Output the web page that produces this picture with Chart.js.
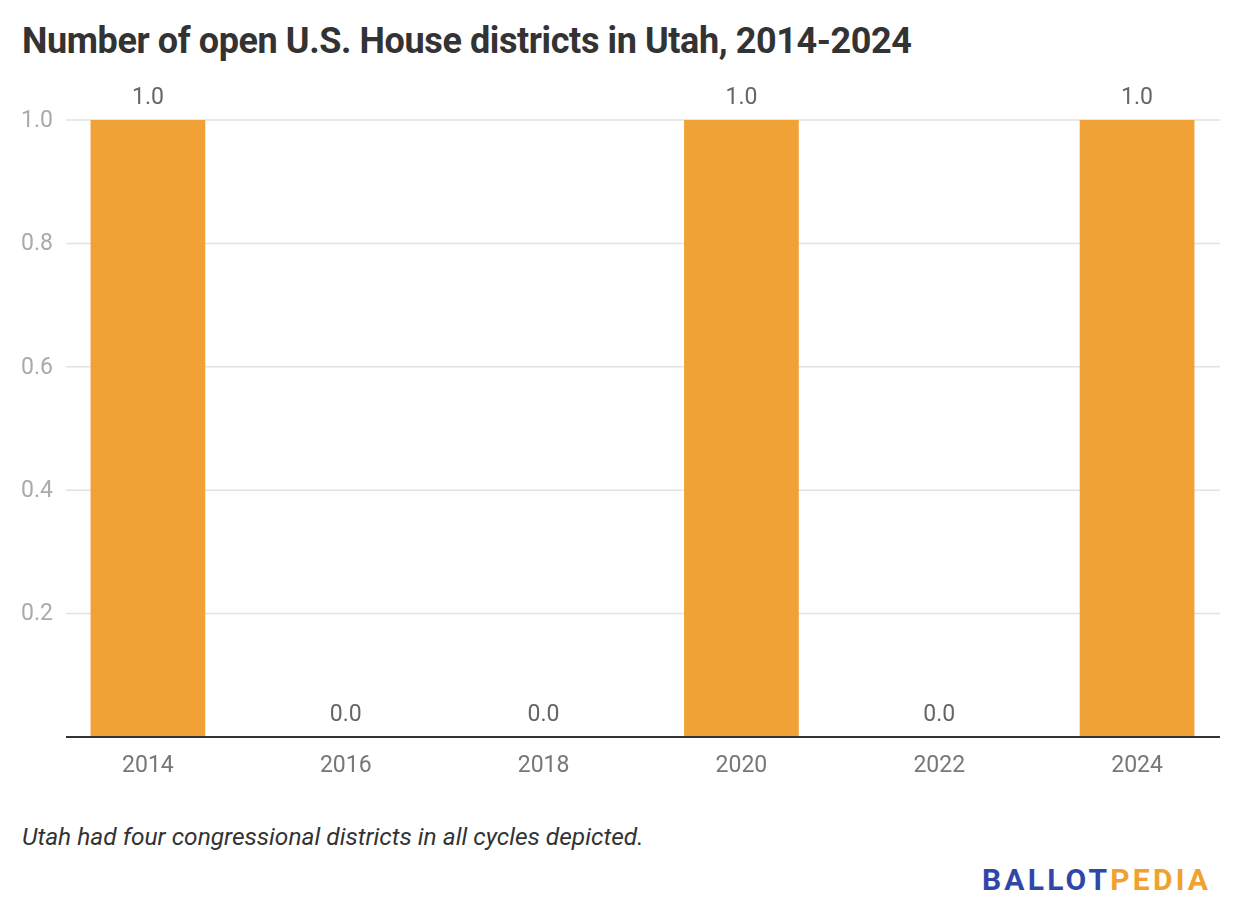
<!DOCTYPE html>
<html>
<head>
<meta charset="utf-8">
<script src="https://cdn.jsdelivr.net/npm/chart.js@4/dist/chart.umd.min.js"></script>
<style>
  html, body { margin: 0; padding: 0; background: #fff; }
  body { width: 1240px; height: 924px; position: relative; overflow: hidden; font-family: Roboto, "Noto Sans", sans-serif; }
  #title { position: absolute; left: 22px; top: 20px; font-size: 36px; font-weight: 700; color: #333; letter-spacing: -0.4px; white-space: nowrap; }
  #chart-wrap { position: absolute; left: 0; top: 0; width: 1240px; height: 800px; }
  #note { position: absolute; left: 22px; top: 822px; font-size: 24.5px; font-style: italic; color: #333; white-space: nowrap; }
  #logo { position: absolute; left: 982px; top: 862px; font-size: 30px; font-weight: 700; letter-spacing: 3.2px; white-space: nowrap; }
  #logo .b { color: #3147a8; }
  #logo .p { color: #f0a22e; }
</style>
</head>
<body>
<div id="title">Number of open U.S. House districts in Utah, 2014-2024</div>
<div id="chart-wrap"><canvas id="chart"></canvas></div>
<div id="note">Utah had four congressional districts in all cycles depicted.</div>
<div id="logo"><span class="b">BALLOT</span><span class="p">PEDIA</span></div>
<script>
document.addEventListener("DOMContentLoaded", function () {
    // Data
    var years = ['2014', '2016', '2018', '2020', '2022', '2024'];
    var openDistricts = [1, 0, 0, 1, 0, 1];
    var yTicks = [0.2, 0.4, 0.6, 0.8, 1.0];

    // grid, axis line, y labels and value labels drawn off the scales
    var decorPlugin = {
        id: 'decor',
        beforeDatasetsDraw: function (chart) {
            var ctx = chart.ctx, area = chart.chartArea, y = chart.scales.y;
            var left = area.left + 17, right = area.right - 16;
            ctx.save();
            ctx.strokeStyle = '#e3e3e3';
            ctx.lineWidth = 1.5;
            ctx.font = '23px Roboto';
            ctx.fillStyle = '#aaaaaa';
            ctx.textAlign = 'right';
            ctx.textBaseline = 'middle';
            yTicks.forEach(function (t) {
                var py = y.getPixelForValue(t);
                ctx.beginPath();
                ctx.moveTo(left, py);
                ctx.lineTo(right, py);
                ctx.stroke();
                ctx.fillText(t.toFixed(1), left - 13, py + 1);
            });
            ctx.restore();
        },
        afterDatasetsDraw: function (chart) {
            var ctx = chart.ctx, area = chart.chartArea, y = chart.scales.y;
            var left = area.left + 17, right = area.right - 16;
            ctx.save();
            ctx.strokeStyle = '#333';
            ctx.lineWidth = 2;
            var py0 = y.getPixelForValue(0);
            ctx.beginPath();
            ctx.moveTo(left, py0);
            ctx.lineTo(right, py0);
            ctx.stroke();
            ctx.font = '23px Roboto';
            ctx.fillStyle = '#666';
            ctx.textAlign = 'center';
            ctx.textBaseline = 'middle';
            chart.getDatasetMeta(0).data.forEach(function (bar, i) {
                ctx.fillText(openDistricts[i].toFixed(1), bar.x, bar.y - 22);
            });
            ctx.restore();
        }
    };

    new Chart(document.getElementById('chart'), {
        type: 'bar',
        data: {
            labels: years,
            datasets: [{
                data: openDistricts,
                backgroundColor: '#f0a236',
                borderWidth: 0,
                categoryPercentage: 1.0,
                barPercentage: 0.58
            }]
        },
        options: {
            responsive: true,
            maintainAspectRatio: false,
            animation: false,
            layout: { padding: { left: 49, right: 4, top: 120, bottom: 11 } },
            plugins: {
                legend: { display: false },
                tooltip: { enabled: false }
            },
            scales: {
                x: {
                    grid: { display: false, drawTicks: false },
                    border: { display: false },
                    ticks: {
                        padding: 15,
                        color: '#777',
                        font: { family: 'Roboto', size: 23 }
                    },
                    afterFit: function (scale) { scale.height = 52; }
                },
                y: {
                    display: false,
                    min: 0,
                    max: 1
                }
            }
        },
        plugins: [decorPlugin]
    });
});
</script>
</body>
</html>
